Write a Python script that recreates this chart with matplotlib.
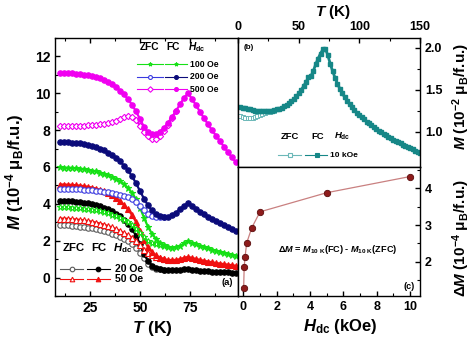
import numpy as np
import matplotlib
matplotlib.use('Agg')
import matplotlib.pyplot as plt
from matplotlib.ticker import MultipleLocator

plt.rcParams['font.family'] = ['Liberation Sans', 'DejaVu Sans']
plt.rcParams['font.weight'] = 'bold'
plt.rcParams['mathtext.fontset'] = 'custom'
plt.rcParams['mathtext.rm'] = 'Liberation Sans:bold'
plt.rcParams['mathtext.it'] = 'Liberation Sans:italic:bold'
plt.rcParams['mathtext.bf'] = 'Liberation Sans:bold'
plt.rcParams['axes.linewidth'] = 1.0

# ---------------- data: panel (a) ----------------
T_a = [10, 12, 14, 16, 18, 20, 22, 24, 26, 28, 30, 32, 34, 36, 38, 40, 42, 44, 46, 48,
       50, 52, 54, 56, 58, 60, 62, 64, 66, 68, 70, 72, 74, 76, 78, 80, 82, 84, 86, 88,
       90, 92, 94, 96, 98]

fc_500 = [11.10, 11.10, 11.09, 11.08, 11.06, 11.04, 11.01, 10.97, 10.93, 10.88, 10.81, 10.72,
          10.61, 10.48, 10.33, 10.15, 9.94, 9.68, 9.38, 9.02, 8.60, 8.18, 7.90, 7.78, 7.80,
          7.92, 8.12, 8.40, 8.70, 9.05, 9.40, 9.75, 10.00, 9.70, 9.35, 9.00, 8.65, 8.32,
          8.00, 7.70, 7.40, 7.10, 6.80, 6.52, 6.25]
zfc_500 = [8.20, 8.21, 8.22, 8.22, 8.23, 8.24, 8.25, 8.26, 8.27, 8.29, 8.31, 8.34, 8.38, 8.44,
           8.52, 8.61, 8.70, 8.75, 8.72, 8.55, 8.25, 7.92, 7.66, 7.52, 7.52, 7.68, 7.95, 8.30,
           8.66, 9.03]

fc_200 = [7.35, 7.35, 7.34, 7.32, 7.30, 7.28, 7.24, 7.20, 7.15, 7.08, 7.00, 6.90, 6.78, 6.64,
          6.48, 6.30, 6.08, 5.82, 5.50, 5.12, 4.70, 4.28, 3.92, 3.64, 3.45, 3.33, 3.28, 3.30,
          3.38, 3.52, 3.70, 3.90, 4.02, 3.90, 3.74, 3.58, 3.44, 3.30, 3.18, 3.06, 2.95, 2.84,
          2.74, 2.64, 2.54]
zfc_200 = [4.82, 4.82, 4.81, 4.80, 4.79, 4.78, 4.77, 4.75, 4.73, 4.71, 4.68, 4.65, 4.62, 4.58,
           4.54, 4.50, 4.45, 4.38, 4.28, 4.12, 3.90, 3.66, 3.46, 3.34, 3.28, 3.27, 3.27]

fc_100 = [5.98, 5.97, 5.96, 5.95, 5.93, 5.91, 5.88, 5.85, 5.81, 5.76, 5.70, 5.63, 5.55, 5.46,
          5.35, 5.22, 5.06, 4.86, 4.60, 4.25, 3.80, 3.25, 2.75, 2.38, 2.10, 1.90, 1.75, 1.66,
          1.62, 1.64, 1.72, 1.85, 1.96, 1.88, 1.80, 1.72, 1.65, 1.58, 1.52, 1.46, 1.40, 1.34,
          1.29, 1.24, 1.19]
zfc_100 = [3.82, 3.82, 3.81, 3.80, 3.78, 3.76, 3.74, 3.71, 3.68, 3.64, 3.60, 3.55, 3.49, 3.42,
           3.34, 3.25, 3.14, 3.01, 2.85, 2.65, 2.42, 2.18, 1.98, 1.86, 1.80, 1.75, 1.72]

fc_50 = [5.05, 5.05, 5.04, 5.03, 5.01, 4.99, 4.96, 4.93, 4.88, 4.83, 4.76, 4.68, 4.58, 4.46,
         4.32, 4.15, 3.95, 3.70, 3.40, 3.02, 2.55, 2.05, 1.65, 1.38, 1.20, 1.08, 1.00, 0.96,
         0.95, 0.96, 1.00, 1.07, 1.12, 1.07, 1.01, 0.96, 0.91, 0.87, 0.83, 0.79, 0.76, 0.73,
         0.70, 0.67, 0.64]
zfc_50 = [3.20, 3.20, 3.19, 3.17, 3.15, 3.13, 3.10, 3.07, 3.03, 2.98, 2.93, 2.87, 2.80, 2.72,
          2.63, 2.53, 2.42, 2.30, 2.16, 1.98, 1.76, 1.52, 1.33, 1.20, 1.12, 1.06, 1.00]

fc_20 = [4.15, 4.15, 4.14, 4.13, 4.11, 4.09, 4.06, 4.03, 3.99, 3.94, 3.88, 3.80, 3.71, 3.60,
         3.47, 3.32, 3.14, 2.92, 2.64, 2.28, 1.82, 1.30, 0.88, 0.65, 0.52, 0.46, 0.43, 0.41,
         0.40, 0.40, 0.41, 0.44, 0.46, 0.43, 0.40, 0.38, 0.36, 0.34, 0.32, 0.31, 0.30, 0.29,
         0.28, 0.27, 0.26]
zfc_20 = [2.85, 2.85, 2.84, 2.82, 2.80, 2.77, 2.74, 2.71, 2.67, 2.63, 2.58, 2.52, 2.46, 2.38,
          2.30, 2.20, 2.09, 1.96, 1.80, 1.60, 1.35, 1.05, 0.76, 0.58, 0.49, 0.45, 0.43]

# ---------------- data: panel (b) ----------------
T_b = [2, 4, 6, 8, 10, 12, 14, 16, 18, 20, 22, 24, 26, 28, 30, 32, 34, 36, 38, 40, 42, 44,
       46, 48, 50, 52, 54, 56, 58, 60, 62, 64, 66, 68, 70, 72, 74, 76, 78, 80, 82, 84, 86,
       88, 90, 92, 94, 96, 98, 100, 102, 104, 106, 108, 110, 112, 114, 116, 118, 120, 122,
       124, 126, 128, 130, 132, 134, 136, 138, 140, 142, 144, 146, 148, 150]
fc_10k = [1.290, 1.285, 1.280, 1.272, 1.265, 1.258, 1.252, 1.247, 1.244, 1.242, 1.241, 1.242,
          1.245, 1.250, 1.257, 1.265, 1.275, 1.287, 1.301, 1.318, 1.338, 1.361, 1.388, 1.419,
          1.455, 1.495, 1.540, 1.590, 1.645, 1.660, 1.720, 1.800, 1.870, 1.930, 1.980, 1.990,
          1.910, 1.810, 1.720, 1.640, 1.570, 1.510, 1.455, 1.410, 1.370, 1.325, 1.290, 1.258,
          1.228, 1.200, 1.172, 1.146, 1.121, 1.098, 1.075, 1.053, 1.032, 1.012, 0.993, 0.975,
          0.957, 0.940, 0.923, 0.907, 0.891, 0.876, 0.861, 0.846, 0.832, 0.818, 0.804, 0.790,
          0.776, 0.763, 0.750]
zfc_10k = [1.190, 1.175, 1.165, 1.160, 1.162, 1.168, 1.178, 1.190, 1.200, 1.210, 1.220, 1.230,
           1.238, 1.245, 1.252]

# ---------------- data: panel (c) ----------------
H_dc = [0.02, 0.05, 0.1, 0.2, 0.5, 1.0, 5.0, 10.0]
dM = [1.30, 1.85, 2.12, 2.51, 2.92, 3.36, 3.88, 4.32]

# ---------------- figure ----------------
W, H = 474, 341
fig = plt.figure(figsize=(W / 100, H / 100), dpi=100)


def px_axes(x0, y0, x1, y1):
    return fig.add_axes([x0 / W, 1 - y1 / H, (x1 - x0) / W, (y1 - y0) / H])


ax_a = px_axes(55, 38, 238, 296)
ax_b = px_axes(238, 38, 420, 167)
ax_c = px_axes(238, 167, 420, 296)

C_MAG = '#f000f0'
C_NAVY = '#0b0b7a'
C_BLUE = '#3a3ae0'
C_GREEN = '#16e016'
C_RED = '#f01010'
C_BLACK = '#000000'
C_GRAY = '#5a5a5a'
C_TEAL = '#168787'
C_TEAL_L = '#6cb8b8'

ms = 3.9
series = [
    (zfc_20, C_GRAY, 'o', False), (fc_20, C_BLACK, 'o', True),
    (zfc_50, C_RED, '^', False), (fc_50, C_RED, '^', True),
    (zfc_100, C_GREEN, '*', False), (fc_100, C_GREEN, '*', True),
    (zfc_200, C_BLUE, 'o', False), (fc_200, C_NAVY, 'o', True),
    (zfc_500, C_MAG, 'D', False), (fc_500, C_MAG, 'o', True),
]
for vals, col, mk, filled in series:
    tt = T_a[:len(vals)]
    ax_a.plot(tt, vals, color=col, lw=1.6, marker=mk,
              ms=ms + (0.6 if mk == '*' else 0) - (0.7 if mk == 'D' else 0),
              mfc=col if filled else 'white', mec=col, mew=0.8)

ax_a.set_xlim(7.5, 99)
ax_a.set_ylim(-1, 13)
ax_a.xaxis.set_major_locator(MultipleLocator(25))
ax_a.xaxis.set_minor_locator(MultipleLocator(12.5))
ax_a.yaxis.set_major_locator(MultipleLocator(2))
ax_a.yaxis.set_minor_locator(MultipleLocator(1))
ax_a.tick_params(which='both', direction='in', top=True, right=False, labelsize=10)
ax_a.tick_params(which='major', length=3.5, width=1)
ax_a.tick_params(which='minor', length=2, width=0.8)


def legend_row(ax, y, xz, xf, xm_z, xm_f, xt, czfc, cfc, mk_z, mk_f, label, fs, mks):
    ax.plot(xz, [y, y], color=czfc, lw=0.8, transform=ax.transAxes, clip_on=False)
    ax.plot([xm_z], [y], marker=mk_z, ms=mks, mfc='white', mec=czfc, mew=0.8,
            transform=ax.transAxes, clip_on=False)
    ax.plot(xf, [y, y], color=cfc, lw=0.8, transform=ax.transAxes, clip_on=False)
    ax.plot([xm_f], [y], marker=mk_f, ms=mks, mfc=cfc, mec=cfc, mew=0.8,
            transform=ax.transAxes, clip_on=False)
    ax.text(xt, y, label, transform=ax.transAxes, fontsize=fs, fontweight='bold',
            ha='left', va='center')


# upper legend (a)
hy = 0.965
ax_a.text(0.519, hy, 'ZFC', transform=ax_a.transAxes, fontsize=7.3, ha='center', va='center')
ax_a.text(0.645, hy, 'FC', transform=ax_a.transAxes, fontsize=7.3, ha='center', va='center')
ax_a.text(0.776, hy, '$H_{\\mathregular{dc}}$', transform=ax_a.transAxes, fontsize=7.3,
          ha='center', va='center')
for y, cz, cf, mz, mf, lab in [(0.898, C_GREEN, C_GREEN, '*', '*', '100 Oe'),
                               (0.849, C_BLUE, C_NAVY, 'o', 'o', '200 Oe'),
                               (0.801, C_MAG, C_MAG, 'D', 'o', '500 Oe')]:
    legend_row(ax_a, y, [0.448, 0.59], [0.60, 0.72], 0.519, 0.66, 0.738, cz, cf, mz, mf,
               lab, 6.2, 2.8)

# lower legend (a)
hy = 0.186
ax_a.text(0.101, hy, 'ZFC', transform=ax_a.transAxes, fontsize=8.2, ha='center', va='center')
ax_a.text(0.24, hy, 'FC', transform=ax_a.transAxes, fontsize=8.2, ha='center', va='center')
ax_a.text(0.372, hy, '$H_{\\mathregular{dc}}$', transform=ax_a.transAxes, fontsize=8.2,
          ha='center', va='center')
for y, cz, cf, mz, mf, lab in [(0.105, C_GRAY, C_BLACK, 'o', 'o', '20 Oe'),
                               (0.066, C_RED, C_RED, '^', '^', '50 Oe')]:
    legend_row(ax_a, y, [0.027, 0.153], [0.175, 0.30], 0.093, 0.235, 0.328, cz, cf, mz, mf,
               lab, 7.5, 3.3)

ax_a.text(0.975, 0.035, '(a)', transform=ax_a.transAxes, fontsize=6.8, ha='right',
          va='bottom')

# ---------------- panel (b) ----------------
ax_b.plot(T_b[:len(zfc_10k)], zfc_10k, color=C_TEAL_L, lw=1.0, marker='s', ms=2.8,
          mfc='white', mec=C_TEAL_L, mew=0.7)
ax_b.plot(T_b, fc_10k, color=C_TEAL, lw=2.0, marker='s', ms=3.4, mfc=C_TEAL, mec=C_TEAL)
ax_b.set_xlim(0, 150)
ax_b.set_ylim(0.58, 2.115)
ax_b.xaxis.set_major_locator(MultipleLocator(50))
ax_b.xaxis.set_minor_locator(MultipleLocator(25))
ax_b.yaxis.set_major_locator(MultipleLocator(0.5))
ax_b.yaxis.set_minor_locator(MultipleLocator(0.25))
ax_b.xaxis.tick_top()
ax_b.yaxis.tick_right()
ax_b.tick_params(which='both', direction='in', top=True, bottom=False, right=True,
                 left=False, labeltop=True, labelbottom=False, labelright=True,
                 labelleft=False, labelsize=9)
ax_b.tick_params(which='major', length=3.5, width=1)
ax_b.tick_params(which='minor', length=2, width=0.8)
ax_b.yaxis.set_major_formatter(matplotlib.ticker.FormatStrFormatter('%.1f'))

hy = 0.235
ax_b.text(0.288, hy, 'ZFC', transform=ax_b.transAxes, fontsize=6.8, ha='center', va='center')
ax_b.text(0.44, hy, 'FC', transform=ax_b.transAxes, fontsize=6.8, ha='center', va='center')
ax_b.text(0.57, hy, '$H_{\\mathregular{dc}}$', transform=ax_b.transAxes, fontsize=6.8,
          ha='center', va='center')
legend_row(ax_b, 0.093, [0.22, 0.345], [0.37, 0.49], 0.284, 0.434, 0.505, C_TEAL_L, C_TEAL,
           's', 's', '10 kOe', 6.0, 2.6)
ax_b.text(0.03, 0.95, '(b)', transform=ax_b.transAxes, fontsize=5.8, ha='left', va='top')

# ---------------- panel (c) ----------------
ax_c.plot(H_dc, dM, color='#c98080', lw=0.9, marker='o', ms=4.6, mfc='#8e1b1b',
          mec='#5a0c0c', mew=0.6)
ax_c.set_xlim(-0.32, 10.6)
ax_c.set_ylim(1.07, 4.58)
ax_c.xaxis.set_major_locator(MultipleLocator(2))
ax_c.xaxis.set_minor_locator(MultipleLocator(1))
ax_c.yaxis.set_major_locator(MultipleLocator(1))
ax_c.yaxis.set_minor_locator(MultipleLocator(0.5))
ax_c.yaxis.tick_right()
ax_c.tick_params(which='both', direction='in', top=False, bottom=True, right=True,
                 left=False, labelright=True, labelleft=False, labelsize=9)
ax_c.tick_params(which='major', length=3.5, width=1)
ax_c.tick_params(which='minor', length=2, width=0.8)
ax_c.text(0.545, 0.357, '$\\Delta M$ = $M_{\\mathregular{10\\ K}}$(FC) - $M_{\\mathregular{10\\ K}}$(ZFC)',
          transform=ax_c.transAxes, fontsize=6.6, ha='center', va='center')
ax_c.text(0.97, 0.04, '(c)', transform=ax_c.transAxes, fontsize=6.5, ha='right', va='bottom')

# ---------------- axis labels ----------------
def ftext(x, y, s, **kw):
    fig.text(x / W, 1 - y / H, s, ha='center', va='center', fontweight='bold', **kw)


ftext(15, 172, '$M$ (10$^{-4}$ μ$_{\\mathregular{B}}$/f.u.)', fontsize=12, rotation=90)
ftext(152, 328, '$T$ (K)', fontsize=12.5)
ftext(333, 12, '$T$ (K)', fontsize=11)
ftext(461, 97, '$M$ (10$^{-2}$ μ$_{\\mathregular{B}}$/f.u.)', fontsize=11, rotation=90)
ftext(461, 238, 'Δ$M$ (10$^{-4}$ μ$_{\\mathregular{B}}$/f.u.)', fontsize=11, rotation=90)
ftext(340, 326, '$H_{\\mathregular{dc}}$ (kOe)', fontsize=12)

fig.savefig('out.png', dpi=100)
